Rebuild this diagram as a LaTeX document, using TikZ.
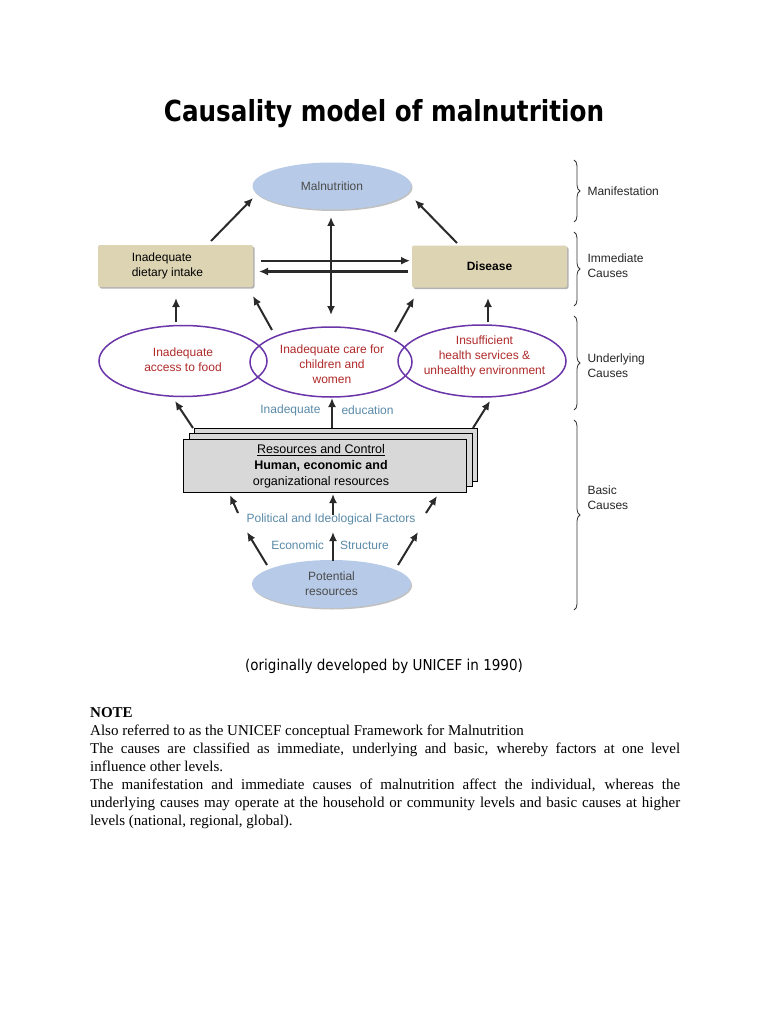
\documentclass[tikz,border=0pt]{standalone}
\usepackage{fontspec}
\setmainfont{Liberation Serif}
\setsansfont{Liberation Sans}
\newfontfamily\tahoma{DejaVu Sans}
\usetikzlibrary{arrows.meta,decorations.pathreplacing,shapes.geometric,shadows}
\definecolor{tanfill}{HTML}{DDD4B4}
\definecolor{bluefill}{HTML}{B7CBE8}
\definecolor{purp}{HTML}{6A35A8}
\definecolor{redtxt}{HTML}{B02A2A}
\definecolor{bluetxt}{HTML}{5A8AA8}
\definecolor{arrowc}{HTML}{2A2A2A}
\definecolor{grayfill}{HTML}{D8D8D8}
\definecolor{txtgray}{HTML}{4A4A4A}
\begin{document}
\begin{tikzpicture}[x=1pt,y=-1pt,
  arr/.style={draw=arrowc, line width=2pt, -{Latex[length=9pt,width=8pt]}},
  darr/.style={draw=arrowc, line width=2pt, {Latex[length=9pt,width=8pt]}-{Latex[length=9pt,width=8pt]}},
  harr/.style={draw=arrowc, line width=2.4pt, -{Latex[length=9pt,width=8pt]}},
  sf/.style={font=\sffamily\fontsize{12}{15}\selectfont},
  cause/.style={sf, rectangle, fill=tanfill, minimum width=155pt, minimum height=42pt, rounded corners=2pt, inner sep=0pt,
     drop shadow={shadow xshift=1.5pt, shadow yshift=-1.5pt, fill=black!60, opacity=.5}},
  bell/.style={sf, ellipse, fill=bluefill, minimum width=159pt, minimum height=47pt, inner sep=0pt, text=txtgray, align=center,
     drop shadow={shadow xshift=1pt, shadow yshift=-1.5pt, fill=black!60, opacity=.4}},
  uell/.style={ellipse, draw=purp, line width=1.5pt, minimum width=168pt, minimum height=71pt, inner sep=0pt},
  utxt/.style={sf, text=redtxt, align=center},
  btxt/.style={sf, text=bluetxt},
  sheet/.style={rectangle, draw=black, line width=1pt, fill=grayfill, minimum width=283pt, minimum height=53pt, inner sep=0pt},
  brc/.style={decorate, decoration={brace, amplitude=6pt}, line width=0.8pt, draw=black!80},
  side/.style={sf, text=black!85, align=left, anchor=west},
  note/.style={font=\fontsize{15}{18}\selectfont, anchor=base west, inner sep=0pt},
]
\path[fill=white, use as bounding box] (0,0) rectangle (768,1024);

% title
\node[inner sep=0pt, anchor=base] (title) at (384,122)
  {\scalebox{0.85}[1]{\tahoma\bfseries\fontsize{29}{32}\selectfont Causality model of malnutrition}};

% manifestation / immediate
\node[bell] (mal) at (332,186) {Malnutrition};
\node[cause, align=left] (diet) at (175.5,266) {\hspace*{-16pt}Inadequate\\\hspace*{-16pt}dietary intake};
\node[cause, font=\sffamily\bfseries\fontsize{12}{15}\selectfont] (dis) at (489.5,266.5) {Disease};

% underlying ellipses
\node[uell] (ufood) at (183,361) {};
\node[uell, minimum width=162pt, minimum height=70pt] (ucare) at (331,362) {};
\node[uell, minimum height=72pt] (uhealth) at (482,361) {};
\node[utxt] (tfood) at (183,359.5) {Inadequate\\access to food};
\node[utxt] (tcare) at (332,364.5) {Inadequate care for\\children and\\women};
\node[utxt] (thealth) at (484.5,356) {Insufficient\\health services \&\\unhealthy environment};

% resources sheets
\node[sheet] (res3) at (336,454.5) {};
\node[sheet] (res2) at (330.5,459.5) {};
\node[sheet] (res) at (324.5,465.5) {};
\node[sf, align=center, font=\sffamily\fontsize{12.5}{16}\selectfont] (restxt) at (321,466)
  {\underline{Resources and Control}\\\textbf{Human, economic and}\\organizational resources};

% potential resources
\node[bell, minimum height=48pt] (pot) at (331.5,584) {Potential\\resources};

% labels
\node[btxt, anchor=east] (ined) at (324,410) {Inadequate};
\node[btxt, anchor=west] (educ) at (338,410) {education};
\node[btxt] (polit) at (331,519) {Political and Ideological Factors};
\node[btxt, anchor=east] (econ) at (327.5,545) {Economic};
\node[btxt, anchor=west] (struc) at (336.5,545) {Structure};

% coordinates for connector ends
\coordinate (c1) at (211,241);  \coordinate (c2) at (253,198);
\coordinate (c3) at (457,243);  \coordinate (c4) at (415,200);
\coordinate (h1) at (261,260.7); \coordinate (h2) at (410,260.7);
\coordinate (h3) at (408,271.5); \coordinate (h4) at (259,271.5);
\coordinate (v1) at (331,217);  \coordinate (v2) at (331,315);
\coordinate (u1) at (176,322);  \coordinate (u2) at (176,298);
\coordinate (u3) at (272,330);  \coordinate (u4) at (253,296);
\coordinate (u5) at (395,332);  \coordinate (u6) at (414,298);
\coordinate (u7) at (488,322);  \coordinate (u8) at (488,298);
\coordinate (e1) at (332,428);  \coordinate (e2) at (332,398);
\coordinate (r1) at (193,428);  \coordinate (r2) at (175,401);
\coordinate (r3) at (473,428);  \coordinate (r4) at (490,401);
\coordinate (p1) at (267,565);  \coordinate (p2) at (247,532);
\coordinate (p3) at (238,513);  \coordinate (p4) at (230,495);
\coordinate (p5) at (333,561);  \coordinate (p6) at (333,532);
\coordinate (p7) at (333,515);  \coordinate (p8) at (333,494);
\coordinate (p9) at (398,565);  \coordinate (p10) at (418,532);
\coordinate (p11) at (426,513); \coordinate (p12) at (437,496);

% connectors
\draw[arr] (c1) -- (c2);
\draw[arr] (c3) -- (c4);
\draw[harr] (h1) -- (h2);
\draw[harr] (h3) -- (h4);
\draw[darr] (v1) -- (v2);
\draw[arr] (u1) -- (u2);
\draw[arr] (u3) -- (u4);
\draw[arr] (u5) -- (u6);
\draw[arr] (u7) -- (u8);
\draw[arr] (e1) -- (e2);
\draw[arr] (r1) -- (r2);
\draw[arr] (r3) -- (r4);
\draw[arr] (p1) -- (p2);
\draw[arr] (p3) -- (p4);
\draw[arr] (p5) -- (p6);
\draw[arr] (p7) -- (p8);
\draw[arr] (p9) -- (p10);
\draw[arr] (p11) -- (p12);

% braces
\coordinate (b1) at (574,160); \coordinate (b2) at (574,222);
\coordinate (b3) at (574,232); \coordinate (b4) at (574,306);
\coordinate (b5) at (574,316); \coordinate (b6) at (574,410);
\coordinate (b7) at (574,420); \coordinate (b8) at (574,610);
\draw[brc] (b1) -- (b2);
\draw[brc] (b3) -- (b4);
\draw[brc] (b5) -- (b6);
\draw[brc] (b7) -- (b8);
\node[side] (lman) at (584,191) {Manifestation};
\node[side] (limm) at (584,266) {Immediate\\Causes};
\node[side] (lund) at (584,366) {Underlying\\Causes};
\node[side] (lbas) at (584,498) {Basic\\Causes};

% caption
\node[inner sep=0pt, anchor=base] (cap) at (384,670)
  {\scalebox{0.9}[1]{\tahoma\fontsize{15}{18}\selectfont (originally developed by UNICEF in 1990)}};

% note
\node[note, font=\bfseries\fontsize{15}{18}\selectfont] (n0) at (90,717) {NOTE};
\node[note] (n1) at (90,735) {Also referred to as the UNICEF conceptual Framework for Malnutrition};
\node[note] (n2) at (90,753) {\makebox[590pt][s]{The causes are classified as immediate, underlying and basic, whereby factors at one level}};
\node[note] (n3) at (90,771) {influence other levels.};
\node[note] (n4) at (90,789) {\makebox[590pt][s]{The manifestation and immediate causes of malnutrition affect the individual, whereas the}};
\node[note] (n5) at (90,807) {\makebox[590pt][s]{underlying causes may operate at the household or community levels and basic causes at higher}};
\node[note] (n6) at (90,825) {levels (national, regional, global).};
\end{tikzpicture}
\end{document}
